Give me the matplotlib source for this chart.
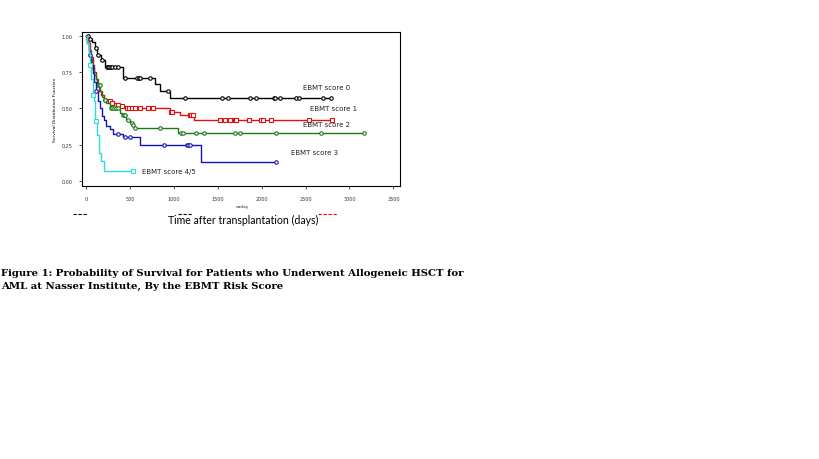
import numpy as np
import matplotlib
matplotlib.use("Agg")
import matplotlib.pyplot as plt
from matplotlib.lines import Line2D

# ---------------- data ----------------
labels = ["EBMT score 0", "EBMT score 1", "EBMT score 2", "EBMT score 3", "EBMT score 4/5"]

t0 = [0, 35, 70, 100, 130, 175, 215, 420, 785, 840, 955]
s0 = [1.0, 0.975, 0.955, 0.915, 0.865, 0.835, 0.783, 0.712, 0.668, 0.622, 0.572]
c0 = [25, 45, 110, 140, 185, 235, 250, 265, 280, 300, 330, 360, 445, 580, 600, 615,
      730, 935, 1125, 1545, 1620, 1865, 1940, 2135, 2150, 2210, 2395, 2425, 2700, 2795]

t1 = [0, 15, 30, 45, 60, 75, 90, 110, 130, 150, 170, 200, 240, 280, 340, 390, 450, 960, 1070, 1225]
s1 = [1.0, 0.97, 0.95, 0.90, 0.85, 0.80, 0.75, 0.70, 0.66, 0.62, 0.59, 0.565, 0.55, 0.535,
      0.525, 0.515, 0.50, 0.478, 0.455, 0.421]
c1 = [275, 295, 365, 405, 465, 485, 520, 560, 620, 710, 765, 965, 985, 1180, 1200, 1220,
      1530, 1580, 1635, 1685, 1695, 1705, 1855, 1995, 2015, 2110, 2540, 2800]

t2 = [0, 15, 30, 50, 70, 90, 110, 135, 165, 185, 205, 225, 270, 390, 410, 460, 500, 530, 550, 1050]
s2 = [1.0, 0.95, 0.90, 0.84, 0.78, 0.73, 0.70, 0.66, 0.62, 0.58, 0.56, 0.54, 0.50, 0.47,
      0.455, 0.42, 0.40, 0.385, 0.366, 0.332]
c2 = [140, 150, 160, 215, 220, 285, 300, 320, 345, 370, 420, 435, 445, 475, 525, 540, 560,
      840, 1085, 1100, 1250, 1340, 1695, 1750, 2165, 2680, 3170]

t3 = [0, 15, 35, 55, 75, 95, 115, 140, 160, 180, 200, 230, 270, 310, 420, 615, 1315]
s3 = [1.0, 0.95, 0.87, 0.80, 0.74, 0.68, 0.62, 0.55, 0.50, 0.45, 0.42, 0.38, 0.355, 0.327,
      0.30, 0.247, 0.128]
c3 = [45, 120, 365, 445, 500, 885, 1145, 1165, 1185, 2167]

t4 = [0, 15, 30, 45, 60, 75, 90, 105, 130, 150, 175, 205]
s4 = [1.0, 0.95, 0.88, 0.80, 0.70, 0.59, 0.55, 0.41, 0.32, 0.19, 0.14, 0.071]
c4 = [50, 80, 110, 540]

label_x = [2466, 2545, 2466, 2330, 636]
label_y = [0.647, 0.502, 0.392, 0.20, 0.069]

x_ticks = [0, 500, 1000, 1500, 2000, 2500, 3000, 3500]
y_ticks = [0.00, 0.25, 0.50, 0.75, 1.00]

colors = ["#000000", "#e01010", "#1a7a1a", "#1414b4", "#30dada"]
markers = ["o", "s", "o", "o", "s"]

# ---------------- figure ----------------
fig = plt.figure(figsize=(8.19, 4.60), dpi=100)
W, H = 819.0, 460.0
L, R, T, B = 82, 400, 33, 187
ax = fig.add_axes([L / W, 1 - B / H, (R - L) / W, (B - T) / H])

series = [(t0, s0, c0), (t1, s1, c1), (t2, s2, c2), (t3, s3, c3), (t4, s4, c4)]
for (t, s, c), col, mk in zip(series, colors, markers):
    t = np.asarray(t, float)
    s = np.asarray(s, float)
    c = np.asarray(c, float)
    end = c.max()
    tt = np.append(t, end)
    ss = np.append(s, s[-1])
    ax.step(tt, ss, where="post", color=col, lw=1.0)
    idx = np.searchsorted(t, c, side="right") - 1
    ax.plot(c, s[idx], ls="none", marker=mk, ms=2.5, mfc="white", mec=col, mew=0.8)

for lx, ly, lab in zip(label_x, label_y, labels):
    ax.text(lx, ly, lab, fontsize=5, family="DejaVu Sans", va="center", ha="left",
            color="#222222")

ax.set_xlim(-45, 3575)
ax.set_ylim(-0.034, 1.025)
ax.set_xticks(x_ticks)
ax.set_xticklabels([str(v) for v in x_ticks])
ax.set_yticks(y_ticks)
ax.set_yticklabels(["%.2f" % v for v in y_ticks])
ax.tick_params(axis="both", labelsize=3.5, length=2, width=0.6, pad=5, colors="#333333")
for sp in ax.spines.values():
    sp.set_linewidth(0.8)
    sp.set_color("black")

ax.set_ylabel("Survival Distribution Function", fontsize=3.2, labelpad=3)

# small garbled axis caption and big x title
fig.text(242 / W, 1 - 207 / H, "oaday", fontsize=3.2, ha="center", va="center", color="#333333")
fig.text(243 / W, 1 - 220 / H, "Time after transplantation (days)", fontsize=7.6,
         family="Lato", ha="center", va="center", color="black")

# leftover legend fragments
for x0, x1, col in [(73, 88, "black"), (178, 193, "black"), (318, 337, "#e01010")]:
    fig.add_artist(Line2D([x0 / W, x1 / W], [1 - 215 / H, 1 - 215 / H], color=col,
                          lw=0.8, ls=(0, (3, 1.5))))

# figure caption
fig.text(1 / W, 1 - 273.5 / H,
         "Figure 1: Probability of Survival for Patients who Underwent Allogeneic HSCT for",
         fontsize=7.25, family="DejaVu Serif", weight="bold", ha="left", va="center")
fig.text(1 / W, 1 - 286.5 / H,
         "AML at Nasser Institute, By the EBMT Risk Score",
         fontsize=7.25, family="DejaVu Serif", weight="bold", ha="left", va="center")

fig.savefig("out.png", dpi=100)
